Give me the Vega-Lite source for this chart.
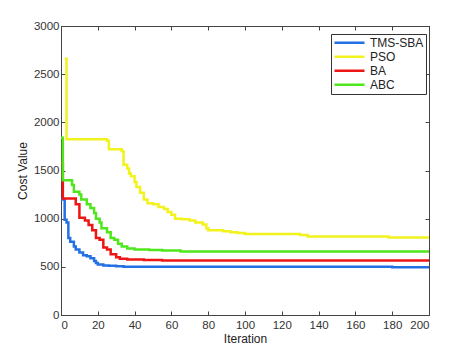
{
  "$schema": "https://vega.github.io/schema/vega-lite/v6.json",
  "autosize": "none",
  "width": 368,
  "height": 289,
  "padding": {"left": 61, "top": 26, "right": 45, "bottom": 40},
  "background": "white",
  "config": {
    "font": "Liberation Sans",
    "view": {"stroke": "#444", "strokeWidth": 1},
    "axis": {
      "labelFont": "Liberation Sans",
      "labelFontSize": 11.5,
      "labelColor": "#333",
      "titleFont": "Liberation Sans",
      "titleFontSize": 12,
      "titleFontWeight": "normal",
      "titleColor": "#222",
      "gridColor": "#e6e6e6",
      "gridWidth": 1,
      "domainColor": "#444",
      "tickColor": "#444",
      "tickSize": -4
    }
  },
  "datasets": {
    "conv": [
      {"iter": 0, "value": 1200, "algo": "TMS-SBA"},
      {"iter": 2, "value": 990, "algo": "TMS-SBA"},
      {"iter": 3, "value": 960, "algo": "TMS-SBA"},
      {"iter": 4, "value": 800, "algo": "TMS-SBA"},
      {"iter": 5, "value": 760, "algo": "TMS-SBA"},
      {"iter": 7, "value": 710, "algo": "TMS-SBA"},
      {"iter": 8, "value": 680, "algo": "TMS-SBA"},
      {"iter": 10, "value": 650, "algo": "TMS-SBA"},
      {"iter": 12, "value": 620, "algo": "TMS-SBA"},
      {"iter": 14, "value": 610, "algo": "TMS-SBA"},
      {"iter": 16, "value": 590, "algo": "TMS-SBA"},
      {"iter": 18, "value": 560, "algo": "TMS-SBA"},
      {"iter": 19, "value": 540, "algo": "TMS-SBA"},
      {"iter": 20, "value": 525, "algo": "TMS-SBA"},
      {"iter": 23, "value": 515, "algo": "TMS-SBA"},
      {"iter": 26, "value": 510, "algo": "TMS-SBA"},
      {"iter": 30, "value": 505, "algo": "TMS-SBA"},
      {"iter": 34, "value": 500, "algo": "TMS-SBA"},
      {"iter": 180, "value": 495, "algo": "TMS-SBA"},
      {"iter": 200, "value": 495, "algo": "TMS-SBA"},

      {"iter": 2, "value": 2660, "algo": "PSO"},
      {"iter": 3, "value": 1825, "algo": "PSO"},
      {"iter": 25, "value": 1810, "algo": "PSO"},
      {"iter": 26, "value": 1720, "algo": "PSO"},
      {"iter": 33, "value": 1700, "algo": "PSO"},
      {"iter": 34, "value": 1560, "algo": "PSO"},
      {"iter": 36, "value": 1520, "algo": "PSO"},
      {"iter": 37, "value": 1470, "algo": "PSO"},
      {"iter": 38, "value": 1440, "algo": "PSO"},
      {"iter": 40, "value": 1380, "algo": "PSO"},
      {"iter": 41, "value": 1330, "algo": "PSO"},
      {"iter": 43, "value": 1270, "algo": "PSO"},
      {"iter": 45, "value": 1200, "algo": "PSO"},
      {"iter": 47, "value": 1160, "algo": "PSO"},
      {"iter": 50, "value": 1150, "algo": "PSO"},
      {"iter": 53, "value": 1120, "algo": "PSO"},
      {"iter": 56, "value": 1100, "algo": "PSO"},
      {"iter": 58, "value": 1070, "algo": "PSO"},
      {"iter": 60, "value": 1040, "algo": "PSO"},
      {"iter": 62, "value": 1000, "algo": "PSO"},
      {"iter": 66, "value": 995, "algo": "PSO"},
      {"iter": 70, "value": 980, "algo": "PSO"},
      {"iter": 73, "value": 960, "algo": "PSO"},
      {"iter": 77, "value": 940, "algo": "PSO"},
      {"iter": 79, "value": 900, "algo": "PSO"},
      {"iter": 80, "value": 880, "algo": "PSO"},
      {"iter": 88, "value": 870, "algo": "PSO"},
      {"iter": 92, "value": 860, "algo": "PSO"},
      {"iter": 96, "value": 850, "algo": "PSO"},
      {"iter": 100, "value": 840, "algo": "PSO"},
      {"iter": 127, "value": 840, "algo": "PSO"},
      {"iter": 130, "value": 830, "algo": "PSO"},
      {"iter": 134, "value": 815, "algo": "PSO"},
      {"iter": 176, "value": 815, "algo": "PSO"},
      {"iter": 178, "value": 805, "algo": "PSO"},
      {"iter": 200, "value": 805, "algo": "PSO"},

      {"iter": 0, "value": 1580, "algo": "BA"},
      {"iter": 1, "value": 1210, "algo": "BA"},
      {"iter": 8, "value": 1150, "algo": "BA"},
      {"iter": 10, "value": 1010, "algo": "BA"},
      {"iter": 13, "value": 980, "algo": "BA"},
      {"iter": 15, "value": 935, "algo": "BA"},
      {"iter": 17, "value": 880, "algo": "BA"},
      {"iter": 19, "value": 800, "algo": "BA"},
      {"iter": 21, "value": 780, "algo": "BA"},
      {"iter": 23, "value": 700, "algo": "BA"},
      {"iter": 25, "value": 680, "algo": "BA"},
      {"iter": 27, "value": 630, "algo": "BA"},
      {"iter": 30, "value": 600, "algo": "BA"},
      {"iter": 32, "value": 585, "algo": "BA"},
      {"iter": 36, "value": 575, "algo": "BA"},
      {"iter": 45, "value": 570, "algo": "BA"},
      {"iter": 55, "value": 565, "algo": "BA"},
      {"iter": 200, "value": 565, "algo": "BA"},

      {"iter": 0, "value": 1840, "algo": "ABC"},
      {"iter": 1, "value": 1400, "algo": "ABC"},
      {"iter": 6, "value": 1350, "algo": "ABC"},
      {"iter": 7, "value": 1280, "algo": "ABC"},
      {"iter": 10, "value": 1250, "algo": "ABC"},
      {"iter": 11, "value": 1200, "algo": "ABC"},
      {"iter": 14, "value": 1150, "algo": "ABC"},
      {"iter": 16, "value": 1110, "algo": "ABC"},
      {"iter": 18, "value": 1060, "algo": "ABC"},
      {"iter": 19, "value": 1000, "algo": "ABC"},
      {"iter": 21, "value": 960, "algo": "ABC"},
      {"iter": 22, "value": 900, "algo": "ABC"},
      {"iter": 25, "value": 860, "algo": "ABC"},
      {"iter": 27, "value": 800, "algo": "ABC"},
      {"iter": 29, "value": 780, "algo": "ABC"},
      {"iter": 31, "value": 740, "algo": "ABC"},
      {"iter": 33, "value": 710, "algo": "ABC"},
      {"iter": 36, "value": 690, "algo": "ABC"},
      {"iter": 40, "value": 680, "algo": "ABC"},
      {"iter": 48, "value": 675, "algo": "ABC"},
      {"iter": 55, "value": 670, "algo": "ABC"},
      {"iter": 65, "value": 660, "algo": "ABC"},
      {"iter": 200, "value": 660, "algo": "ABC"}
    ]
  },
  "data": {"name": "conv"},
  "layer": [
    {
      "mark": {"type": "rule", "opacity": 0},
      "encoding": {
        "x": {"field": "iter", "type": "quantitative", "scale": {"domain": [0, 200], "nice": false},
              "axis": {"orient": "top", "labels": false, "title": null, "grid": false, "values": [0,20,40,60,80,100,120,140,160,180,200]}},
        "y": {"field": "value", "type": "quantitative", "scale": {"domain": [0, 3000], "nice": false},
              "axis": {"orient": "right", "labels": false, "title": null, "grid": false, "values": [0,500,1000,1500,2000,2500,3000]}}
      }
    },
    {
      "mark": {"type": "line", "strokeWidth": 2.5, "interpolate": "step-after"},
      "encoding": {
        "x": {"field": "iter", "type": "quantitative", "scale": {"domain": [0, 200], "nice": false},
              "axis": {"orient": "bottom", "title": "Iteration", "format": "d", "values": [0,20,40,60,80,100,120,140,160,180,200], "labelPadding": 8, "titlePadding": 3}},
        "y": {"field": "value", "type": "quantitative", "scale": {"domain": [0, 3000], "nice": false},
              "axis": {"orient": "left", "title": "Cost Value", "format": "d", "values": [0,500,1000,1500,2000,2500,3000], "labelPadding": 6, "titlePadding": 4}},
        "color": {
          "field": "algo", "type": "nominal",
          "scale": {"domain": ["TMS-SBA", "PSO", "BA", "ABC"], "range": ["#2370e3", "#f2f21f", "#ee1515", "#4fe61c"]},
          "legend": {
            "title": null, "orient": "none", "legendX": 270, "legendY": 8,
            "symbolType": "stroke", "symbolStrokeWidth": 2.5, "symbolSize": 900,
            "labelFontSize": 12, "labelFont": "Liberation Sans", "labelColor": "#222",
            "strokeColor": "#333", "fillColor": "white", "padding": 2,
            "rowPadding": 0, "clipHeight": 13.5, "labelOffset": 4
          }
        }
      }
    }
  ],
  "resolve": {"axis": {"x": "independent", "y": "independent"}}
}
